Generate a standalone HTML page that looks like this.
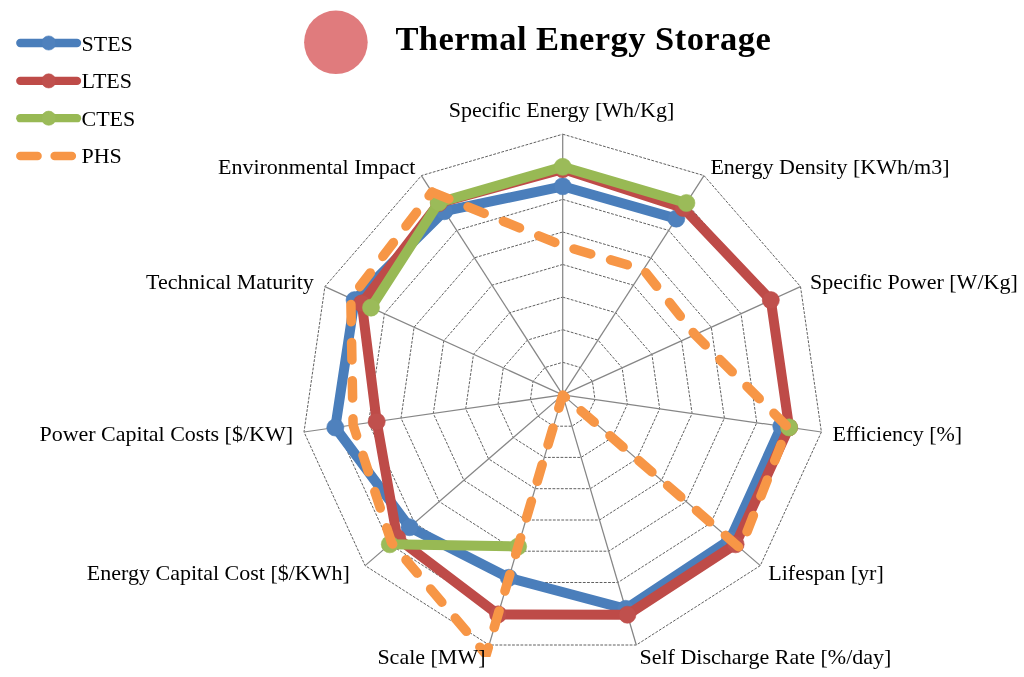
<!DOCTYPE html>
<html><head><meta charset="utf-8"><title>Thermal Energy Storage</title>
<style>
html,body{margin:0;padding:0;background:#fff;}
body{width:1024px;height:677px;overflow:hidden;}
svg{display:block;font-family:"Liberation Serif","Times New Roman",serif;fill:#000;}
</style></head><body>
<svg width="1024" height="677" viewBox="0 0 1024 677">
<rect width="1024" height="677" fill="#fff"/>
<polygon points="562.7,362.3 580.4,367.5 592.4,381.4 595.0,399.5 587.4,416.2 571.9,426.2 553.5,426.2 538.0,416.2 530.4,399.5 533.0,381.4 545.0,367.5" fill="none" stroke="#606060" stroke-width="1" stroke-dasharray="2.8 1.4"/>
<polygon points="562.7,329.7 598.0,340.1 622.1,367.8 627.4,404.2 612.1,437.6 581.1,457.4 544.3,457.4 513.3,437.6 498.0,404.2 503.3,367.8 527.4,340.1" fill="none" stroke="#606060" stroke-width="1" stroke-dasharray="2.8 1.4"/>
<polygon points="562.7,297.1 615.7,312.7 651.9,354.3 659.7,408.8 636.8,458.9 590.3,488.7 535.1,488.7 488.6,458.9 465.7,408.8 473.5,354.3 509.7,312.7" fill="none" stroke="#606060" stroke-width="1" stroke-dasharray="2.8 1.4"/>
<polygon points="562.7,264.5 633.4,285.2 681.6,340.8 692.1,413.5 661.5,480.3 599.5,520.0 525.9,520.0 463.9,480.3 433.3,413.5 443.8,340.8 492.0,285.2" fill="none" stroke="#606060" stroke-width="1" stroke-dasharray="2.8 1.4"/>
<polygon points="562.7,232.0 651.0,257.8 711.3,327.2 724.4,418.1 686.2,501.6 608.7,551.2 516.7,551.2 439.2,501.6 401.0,418.1 414.1,327.2 474.4,257.8" fill="none" stroke="#606060" stroke-width="1" stroke-dasharray="2.8 1.4"/>
<polygon points="562.7,199.4 668.7,230.4 741.0,313.7 756.8,422.7 710.9,522.9 617.9,582.5 507.5,582.5 414.5,522.9 368.6,422.7 384.4,313.7 456.7,230.4" fill="none" stroke="#606060" stroke-width="1" stroke-dasharray="2.8 1.4"/>
<polygon points="562.7,166.8 686.4,203.0 770.8,300.1 789.1,427.4 735.6,544.3 627.1,613.8 498.3,613.8 389.8,544.3 336.3,427.4 354.6,300.1 439.0,203.0" fill="none" stroke="#606060" stroke-width="1" stroke-dasharray="2.8 1.4"/>
<polygon points="562.7,134.2 704.0,175.6 800.5,286.6 821.4,432.0 760.3,565.6 636.3,645.0 489.1,645.0 365.1,565.6 304.0,432.0 324.9,286.6 421.4,175.6" fill="none" stroke="#606060" stroke-width="1" stroke-dasharray="2.8 1.4"/>
<line x1="562.7" y1="394.9" x2="562.7" y2="134.2" stroke="#868686" stroke-width="1.25"/>
<line x1="562.7" y1="394.9" x2="704.0" y2="175.6" stroke="#868686" stroke-width="1.25"/>
<line x1="562.7" y1="394.9" x2="800.5" y2="286.6" stroke="#868686" stroke-width="1.25"/>
<line x1="562.7" y1="394.9" x2="821.4" y2="432.0" stroke="#868686" stroke-width="1.25"/>
<line x1="562.7" y1="394.9" x2="760.3" y2="565.6" stroke="#868686" stroke-width="1.25"/>
<line x1="562.7" y1="394.9" x2="636.3" y2="645.0" stroke="#868686" stroke-width="1.25"/>
<line x1="562.7" y1="394.9" x2="489.1" y2="645.0" stroke="#868686" stroke-width="1.25"/>
<line x1="562.7" y1="394.9" x2="365.1" y2="565.6" stroke="#868686" stroke-width="1.25"/>
<line x1="562.7" y1="394.9" x2="304.0" y2="432.0" stroke="#868686" stroke-width="1.25"/>
<line x1="562.7" y1="394.9" x2="324.9" y2="286.6" stroke="#868686" stroke-width="1.25"/>
<line x1="562.7" y1="394.9" x2="421.4" y2="175.6" stroke="#868686" stroke-width="1.25"/>
<path d="M781.3,426.3 L730.1,539.6 L625.7,608.8 L508.8,577.8 L409.6,527.2 L335.3,427.5 L354.6,300.1 L444.3,211.2 L562.7,186.3 L676.3,218.6" fill="none" stroke="#4A7EBB" stroke-width="10" stroke-linejoin="round" stroke-linecap="round"/>
<circle cx="562.7" cy="186.3" r="8.549999999999999" fill="#4F81BD" stroke="#4A7EBB" stroke-width="0.6"/>
<circle cx="676.3" cy="218.6" r="8.549999999999999" fill="#4F81BD" stroke="#4A7EBB" stroke-width="0.6"/>
<circle cx="781.3" cy="426.3" r="8.549999999999999" fill="#4F81BD" stroke="#4A7EBB" stroke-width="0.6"/>
<circle cx="730.1" cy="539.6" r="8.549999999999999" fill="#4F81BD" stroke="#4A7EBB" stroke-width="0.6"/>
<circle cx="625.7" cy="608.8" r="8.549999999999999" fill="#4F81BD" stroke="#4A7EBB" stroke-width="0.6"/>
<circle cx="508.8" cy="577.8" r="8.549999999999999" fill="#4F81BD" stroke="#4A7EBB" stroke-width="0.6"/>
<circle cx="409.6" cy="527.2" r="8.549999999999999" fill="#4F81BD" stroke="#4A7EBB" stroke-width="0.6"/>
<circle cx="335.3" cy="427.5" r="8.549999999999999" fill="#4F81BD" stroke="#4A7EBB" stroke-width="0.6"/>
<circle cx="354.6" cy="300.1" r="8.549999999999999" fill="#4F81BD" stroke="#4A7EBB" stroke-width="0.6"/>
<circle cx="444.3" cy="211.2" r="8.549999999999999" fill="#4F81BD" stroke="#4A7EBB" stroke-width="0.6"/>

<path d="M562.7,169.1 L683.2,207.9 L770.8,300.1 L789.1,427.4 L735.6,544.3 L627.4,614.7 L498.1,614.4 L397.2,537.9 L376.7,421.6 L361.8,303.4 L439.0,203.0 Z" fill="none" stroke="#BE4B48" stroke-width="10" stroke-linejoin="round" stroke-linecap="round"/>
<circle cx="562.7" cy="169.1" r="8.549999999999999" fill="#C0504D" stroke="#BE4B48" stroke-width="0.6"/>
<circle cx="683.2" cy="207.9" r="8.549999999999999" fill="#C0504D" stroke="#BE4B48" stroke-width="0.6"/>
<circle cx="770.8" cy="300.1" r="8.549999999999999" fill="#C0504D" stroke="#BE4B48" stroke-width="0.6"/>
<circle cx="789.1" cy="427.4" r="8.549999999999999" fill="#C0504D" stroke="#BE4B48" stroke-width="0.6"/>
<circle cx="735.6" cy="544.3" r="8.549999999999999" fill="#C0504D" stroke="#BE4B48" stroke-width="0.6"/>
<circle cx="627.4" cy="614.7" r="8.549999999999999" fill="#C0504D" stroke="#BE4B48" stroke-width="0.6"/>
<circle cx="498.1" cy="614.4" r="8.549999999999999" fill="#C0504D" stroke="#BE4B48" stroke-width="0.6"/>
<circle cx="397.2" cy="537.9" r="8.549999999999999" fill="#C0504D" stroke="#BE4B48" stroke-width="0.6"/>
<circle cx="376.7" cy="421.6" r="8.549999999999999" fill="#C0504D" stroke="#BE4B48" stroke-width="0.6"/>
<circle cx="361.8" cy="303.4" r="8.549999999999999" fill="#C0504D" stroke="#BE4B48" stroke-width="0.6"/>
<circle cx="439.0" cy="203.0" r="8.549999999999999" fill="#C0504D" stroke="#BE4B48" stroke-width="0.6"/>

<path d="M518.1,546.5 L389.8,544.3 M371.0,307.6 L438.7,202.5 L562.7,166.8 L686.4,203.0" fill="none" stroke="#98B954" stroke-width="10" stroke-linejoin="round" stroke-linecap="round"/>
<circle cx="562.7" cy="166.8" r="8.549999999999999" fill="#9BBB59" stroke="#98B954" stroke-width="0.6"/>
<circle cx="686.4" cy="203.0" r="8.549999999999999" fill="#9BBB59" stroke="#98B954" stroke-width="0.6"/>
<circle cx="789.1" cy="427.4" r="8.549999999999999" fill="#9BBB59" stroke="#98B954" stroke-width="0.6"/>
<circle cx="518.1" cy="546.5" r="8.549999999999999" fill="#9BBB59" stroke="#98B954" stroke-width="0.6"/>
<circle cx="389.8" cy="544.3" r="8.549999999999999" fill="#9BBB59" stroke="#98B954" stroke-width="0.6"/>
<circle cx="371.0" cy="307.6" r="8.549999999999999" fill="#9BBB59" stroke="#98B954" stroke-width="0.6"/>
<circle cx="438.7" cy="202.5" r="8.549999999999999" fill="#9BBB59" stroke="#98B954" stroke-width="0.6"/>

<clipPath id="pc"><rect x="0" y="0" width="1024" height="657"/></clipPath>
<path clip-path="url(#pc)" d="M562.7,245.6 L643.4,269.6 L695.0,334.7 L787.8,427.2 L740.5,548.5 L562.7,394.9 L486.2,654.7 L391.6,542.8 L353.1,425.0 L350.8,298.4 L432.0,192.0" fill="none" stroke="#F79646" stroke-width="9.5" stroke-linecap="round" stroke-linejoin="round" stroke-dasharray="17.4 20.72" stroke-dashoffset="26.27"/>
<path clip-path="url(#pc)" d="M562.7,245.6 L432.0,192.0" fill="none" stroke="#F79646" stroke-width="9.5" stroke-linecap="round" stroke-linejoin="round" stroke-dasharray="17.4 20.80" stroke-dashoffset="29.70"/>
<line x1="20.3" y1="43" x2="77" y2="43" stroke="#4A7EBB" stroke-width="8.3" stroke-linecap="round"/><circle cx="48.7" cy="43" r="7.1" fill="#4F81BD" stroke="#4A7EBB" stroke-width="0.6"/>
<line x1="20.3" y1="80.9" x2="77" y2="80.9" stroke="#BE4B48" stroke-width="8.3" stroke-linecap="round"/><circle cx="48.7" cy="80.9" r="7.1" fill="#C0504D" stroke="#BE4B48" stroke-width="0.6"/>
<line x1="20.3" y1="118.2" x2="77" y2="118.2" stroke="#98B954" stroke-width="8.3" stroke-linecap="round"/><circle cx="48.7" cy="118.2" r="7.1" fill="#9BBB59" stroke="#98B954" stroke-width="0.6"/>
<line x1="20.35" y1="155.9" x2="72" y2="155.9" stroke="#F79646" stroke-width="8.5" stroke-linecap="round" stroke-dasharray="17.2 17.1"/>
<circle cx="335.9" cy="42.3" r="31.8" fill="#E07B7D"/>
<text id="t0" x="81.5" y="50.8" text-anchor="start" font-size="22">STES</text>
<text id="t1" x="81.5" y="88.3" text-anchor="start" font-size="22">LTES</text>
<text id="t2" x="81.5" y="126.2" text-anchor="start" font-size="22">CTES</text>
<text id="t3" x="81.5" y="163.2" text-anchor="start" font-size="22">PHS</text>
<text id="t4" x="561.5" y="117.2" text-anchor="middle" font-size="22">Specific Energy [Wh/Kg]</text>
<text id="t5" x="710.4" y="173.6" text-anchor="start" font-size="22">Energy Density [KWh/m3]</text>
<text id="t6" x="810" y="288.7" text-anchor="start" font-size="22">Specific Power [W/Kg]</text>
<text id="t7" x="832.5" y="441" text-anchor="start" font-size="22">Efficiency [%]</text>
<text id="t8" x="768.3" y="580.2" text-anchor="start" font-size="22">Lifespan [yr]</text>
<text id="t9" x="639.5" y="663.5" text-anchor="start" font-size="22">Self Discharge Rate [%/day]</text>
<text id="t10" x="485.5" y="663.8" text-anchor="end" font-size="22">Scale [MW]</text>
<text id="t11" x="349.8" y="580.4" text-anchor="end" font-size="22">Energy Capital Cost [$/KWh]</text>
<text id="t12" x="293" y="441.2" text-anchor="end" font-size="22">Power Capital Costs [$/KW]</text>
<text id="t13" x="313.8" y="288.7" text-anchor="end" font-size="22">Technical Maturity</text>
<text id="t14" x="415.3" y="173.7" text-anchor="end" font-size="22">Environmental Impact</text>
<text id="title" x="395.4" y="50" textLength="375.4" lengthAdjust="spacing" font-size="34.5" font-weight="bold">Thermal Energy Storage</text>
</svg>
</body></html>
